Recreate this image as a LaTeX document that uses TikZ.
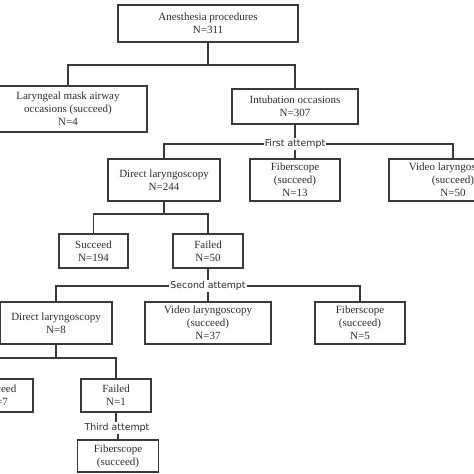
\documentclass[tikz,border=0pt]{standalone}
\usepackage{fontspec}
\setmainfont{Liberation Serif}
\newfontfamily\attemptfont{DejaVu Sans}
\usepackage{xcolor}
\definecolor{Col1}{RGB}{58,58,58}
\definecolor{Col2}{RGB}{45,45,45}
\usepackage{tikz}
\tikzstyle{Box}=[draw=Col1,line width=1.1pt,text=Col2,inner sep=0pt,
align=center,font=\fontsize{11}{13}\selectfont]
\tikzstyle{Edge}=[draw=Col1,line width=1.1pt]
\tikzstyle{Attempt}=[fill=white,text=Col2,inner sep=1pt,
font=\attemptfont\fontsize{9.4}{10}\selectfont]

\begin{document}
\begin{tikzpicture}[x=1pt,y=-1pt]
        \useasboundingbox(0,0)rectangle(474,474);
        \clip(0,0)rectangle(474,474);
        % boxes
        \node[Box,minimum width=180,minimum height=37](anes)at(208,23.5)
            {Anesthesia procedures\\N=311};
        \node[Box,minimum width=158,minimum height=46](lma)at(68,109)
            {Laryngeal mask airway\\occasions (succeed)\\N=4};
        \node[Box,minimum width=126,minimum height=35](intub)at(295,106.5)
            {Intubation occasions\\N=307};
        \node[Box,minimum width=112,minimum height=42](dl1)at(164,180)
            {Direct laryngoscopy\\N=244};
        \node[Box,minimum width=90,minimum height=42](fib1)at(295,180)
            {Fiberscope\\(succeed)\\N=13};
        \node[Box,minimum width=128,minimum height=42](vid1)at(453,180)
            {Video laryngoscopy\\(succeed)\\N=50};
        \node[Box,minimum width=69,minimum height=34](succ1)at(93.5,251)
            {Succeed\\N=194};
        \node[Box,minimum width=70,minimum height=34](fail1)at(208,251)
            {Failed\\N=50};
        \node[Box,minimum width=112,minimum height=42](dl2)at(56,323)
            {Direct laryngoscopy\\N=8};
        \node[Box,minimum width=126,minimum height=42](vid2)at(208,323)
            {Video laryngoscopy\\(succeed)\\N=37};
        \node[Box,minimum width=90,minimum height=42](fib2)at(360,323)
            {Fiberscope\\(succeed)\\N=5};
        \node[Box,minimum width=70,minimum height=33](succ2)at(-2,395.5)
            {Succeed\\N=7};
        \node[Box,minimum width=70,minimum height=33](fail2)at(116,395.5)
            {Failed\\N=1};
        \node[Box,minimum width=81,minimum height=32](fib3)at(118,456)
            {Fiberscope\\(succeed)};
        % attempt labels
        \node[Attempt](first)at(295,144){First attempt};
        \node[Attempt](second)at(208,286){Second attempt};
        \node[Attempt](third)at(117,428){Third attempt};
        \coordinate(j1)at(208,65);
        \coordinate(j2)at(164,214);
        \coordinate(j3)at(56,358);
        % connectors
        \draw[Edge](anes)--(j1);
        \draw[Edge](lma.north)|-(j1)-|(intub.north);
        \draw[Edge](intub.south)--(first.north);
        \draw[Edge](dl1.north)|-(first.west);
        \draw[Edge](first.east)-|(vid1.north);
        \draw[Edge](first.south)--(fib1.north);
        \draw[Edge](dl1.south)--(j2);
        \draw[Edge](succ1.north)|-(j2)-|(fail1.north);
        \draw[Edge](fail1.south)--(second.north);
        \draw[Edge](dl2.north)|-(second.west);
        \draw[Edge](second.east)-|(fib2.north);
        \draw[Edge](second.south)--(vid2.north);
        \draw[Edge](dl2.south)--(j3);
        \draw[Edge](succ2.north)|-(j3)-|(fail2.north);
        \draw[Edge](fail2.south)--(fail2.south|-third.north);
        \draw[Edge](fib3.north|-third.south)--(fib3.north);
    \end{tikzpicture}
\end{document}
